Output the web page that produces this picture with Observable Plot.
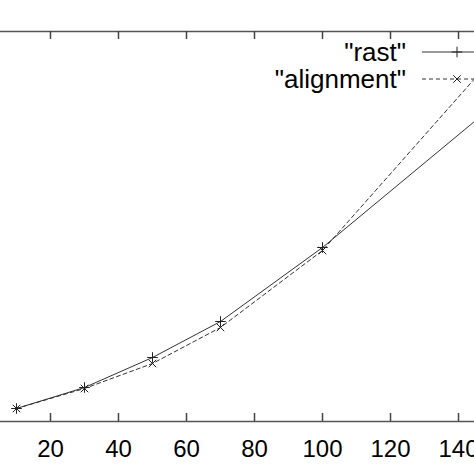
<!DOCTYPE html>
<html><head><meta charset="utf-8">
<script src="https://cdn.jsdelivr.net/npm/d3@7"></script>
<script src="https://cdn.jsdelivr.net/npm/@observablehq/plot@0.6"></script>
<style>
html,body{margin:0;padding:0;background:#fff;}
#wrap{position:relative;width:474px;height:474px;overflow:hidden;font-family:"Liberation Sans",Arial,sans-serif;}
#legend{position:absolute;left:0;top:0;}
</style></head>
<body><div id="wrap"></div>
<script>
const sizes = [10, 30, 50, 70, 100, 150];
const rast = [13, 34, 64, 100, 174, 315];
const alignment = [13, 33, 58, 94, 171, 363];
const xTicks = [0, 20, 40, 60, 80, 100, 120, 140, 160];
const xTickLabels = [20, 40, 60, 80, 100, 120, 140];
const seriesNames = ['"rast"', '"alignment"'];

const rows = [];
sizes.forEach((s, i) => {
  rows.push({series: seriesNames[0], x: s, y: rast[i]});
  rows.push({series: seriesNames[1], x: s, y: alignment[i]});
});
const rastRows = rows.filter(d => d.series === seriesNames[0]);
const alRows = rows.filter(d => d.series === seriesNames[1]);

const chart = Plot.plot({
  width: 474, height: 474,
  marginTop: 31, marginBottom: 53, marginLeft: 0, marginRight: 0,
  style: {fontFamily: '"Liberation Sans", Arial, sans-serif', background: "#fff"},
  x: {domain: [5.3, 144.7]},
  y: {domain: [0, 390], axis: null},
  marks: [
    Plot.frame({anchor: "top", stroke: "#555", strokeWidth: 1.5}),
    Plot.frame({anchor: "bottom", stroke: "#555", strokeWidth: 1.5}),
    Plot.tickX(xTicks, {x: d => d, insetBottom: 382, stroke: "#444", strokeWidth: 1.5}),
    Plot.tickX(xTicks, {x: d => d, insetTop: 382, stroke: "#444", strokeWidth: 1.5}),
    Plot.axisX({anchor: "bottom", ticks: xTickLabels, tickSize: 0, tickPadding: 18, fontSize: 24, label: null, color: "#000"}),
    Plot.line(rastRows, {x: "x", y: "y", stroke: "#333", strokeWidth: 1}),
    Plot.line(alRows, {x: "x", y: "y", stroke: "#333", strokeWidth: 1, strokeDasharray: "4,3"}),
    Plot.dot(rastRows, {x: "x", y: "y", symbol: "plus", r: 3.5, stroke: "#222", strokeWidth: 1}),
    Plot.dot(alRows, {x: "x", y: "y", symbol: "times", r: 3.5, stroke: "#222", strokeWidth: 1})
  ]
});
document.getElementById("wrap").appendChild(chart);

// legend
const leg = d3.select("#wrap").append("svg").attr("id", "legend")
  .attr("width", 474).attr("height", 110);
const items = [
  {name: seriesNames[0], dash: null, sym: d3.symbolPlus, ly: 52},
  {name: seriesNames[1], dash: "4,3", sym: d3.symbolTimes, ly: 79}
];
items.forEach(it => {
  leg.append("text").attr("x", 406).attr("y", it.ly + 9)
    .attr("text-anchor", "end").attr("font-size", 26)
    .attr("font-family", '"Liberation Sans", Arial, sans-serif')
    .attr("fill", "#000").text(it.name);
  leg.append("line").attr("x1", 422).attr("x2", 492).attr("y1", it.ly).attr("y2", it.ly)
    .attr("stroke", "#333").attr("stroke-width", 1)
    .attr("stroke-dasharray", it.dash);
  leg.append("path").attr("d", d3.symbol(it.sym, Math.PI * 3.5 * 3.5)())
    .attr("transform", `translate(457,${it.ly})`)
    .attr("fill", "none").attr("stroke", "#222").attr("stroke-width", 1);
});
</script></body></html>
